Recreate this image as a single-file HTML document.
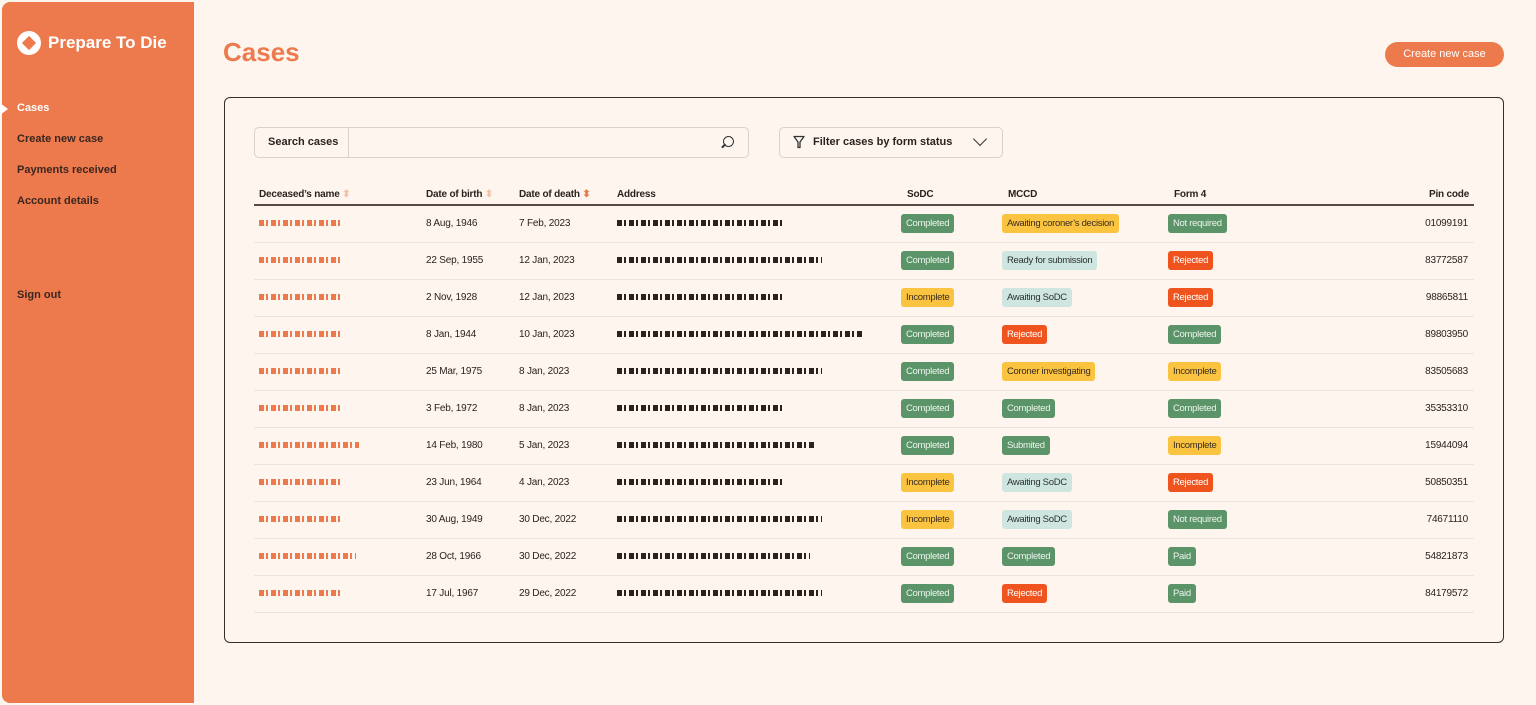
<!DOCTYPE html>
<html><head><style>
*{margin:0;padding:0;box-sizing:border-box}
body{width:1536px;height:705px;background:#fff;font-family:"Liberation Sans",sans-serif;position:relative;overflow:hidden;color:#2b2220}
.bg{position:absolute;left:0;top:0;width:1536px;height:705px;background:#fef5ee}
.side{position:absolute;left:2px;top:2px;width:192px;height:701px;background:#ec7a4c;border-radius:8px 0 0 8px}
.side .nav{position:absolute;left:15px;font-size:11px;font-weight:bold;color:#3a2620}
.a{position:absolute}
.card{position:absolute;left:224px;top:97px;width:1280px;height:546px;border:1.5px solid #3a2c2a;border-radius:6px}
.th{position:absolute;top:189px;font-size:10px;font-weight:bold;color:#2b2220;letter-spacing:-0.2px}
.td{position:absolute;font-size:10px;color:#2b2220;letter-spacing:-0.2px}
.b{position:absolute;height:19px;line-height:19px;font-size:9.5px;padding:0 5px;border-radius:3px;letter-spacing:-0.3px}
.g{background:#5a9468;color:#eef5ee}.y{background:#fbc440;color:#3a2c20}.r{background:#f0541e;color:#fff}.t{background:#cfe5e0;color:#2b3330}
.red{position:absolute;height:6px;background:repeating-linear-gradient(90deg,currentColor 0 5px,transparent 5px 7px,currentColor 7px 9px,transparent 9px 12px)}
.sep{position:absolute;left:254px;width:1220px;height:1px;background:#f1e3d8}
</style></head><body>
<div class="bg"></div>
<div class="side">
 <div class="a" style="left:15px;top:29px;width:24px;height:24px;border-radius:50%;background:#fff"></div>
 <div class="a" style="left:22px;top:36px;width:10px;height:10px;background:#ec7a4c;transform:rotate(45deg)"></div>
 <div class="a" style="left:46px;top:31px;font-size:17px;font-weight:bold;color:#fff">Prepare To Die</div>
 <div class="a" style="left:-2px;top:101px;width:0;height:0;border-top:6px solid transparent;border-bottom:6px solid transparent;border-left:8px solid #fff"></div>
 <div class="nav" style="top:100px;color:#fff">Cases</div>
 <div class="nav" style="top:131px">Create new case</div>
 <div class="nav" style="top:162px">Payments received</div>
 <div class="nav" style="top:193px">Account details</div>
 <div class="nav" style="top:287px">Sign out</div>
</div>
<div class="a" style="left:223px;top:37px;font-size:26px;font-weight:bold;color:#ec7a4c">Cases</div>
<div class="a" style="left:1385px;top:42px;width:119px;height:25px;border-radius:13px;background:#ec7a4c;color:#fff;font-size:11px;text-align:center;line-height:25px">Create new case</div>
<div class="card"></div>
<div class="a" style="left:254px;top:127px;width:495px;height:31px;border:1.5px solid #ddd0c6;border-radius:5px"></div>
<div class="a" style="left:348px;top:128px;width:1px;height:29px;background:#ddd0c6"></div>
<div class="a" style="left:268px;top:136px;font-size:11px;font-weight:bold">Search cases</div>
<div class="a" style="left:723px;top:136px;width:11px;height:11px;border:1.5px solid #333;border-radius:50%"></div>
<div class="a" style="left:721px;top:145px;width:5px;height:1.5px;background:#333;transform:rotate(-45deg)"></div>
<div class="a" style="left:779px;top:127px;width:224px;height:31px;border:1.5px solid #ddd0c6;border-radius:5px"></div>
<svg class="a" style="left:793px;top:135px" width="12" height="14" viewBox="0 0 12 14"><path d="M1 1.5H11L7 7V12.5H5V7Z" fill="none" stroke="#333" stroke-width="1.3" stroke-linejoin="round"/></svg>
<div class="a" style="left:813px;top:136px;font-size:11px;font-weight:bold">Filter cases by form status</div>
<div class="a" style="left:975px;top:134px;width:10px;height:10px;border-right:1.5px solid #333;border-bottom:1.5px solid #333;transform:rotate(45deg)"></div>
<div class="th" style="left:259px">Deceased’s name <span style="color:#f3c2a8">⬍</span></div>
<div class="th" style="left:426px">Date of birth <span style="color:#f3c2a8">⬍</span></div>
<div class="th" style="left:519px">Date of death <span style="color:#ec7a4c">⬍</span></div>
<div class="th" style="left:617px">Address</div>
<div class="th" style="left:907px">SoDC</div>
<div class="th" style="left:1008px">MCCD</div>
<div class="th" style="left:1174px">Form 4</div>
<div class="th" style="left:1429px">Pin code</div>
<div class="a" style="left:254px;top:204px;width:1220px;height:2px;background:#5a4a46"></div>
<div id="rows"></div>
<script>
var d=[["8 Aug, 1946","7 Feb, 2023",166,82,["Completed","g"],["Awaiting coroner’s decision","y"],["Not required","g"],"01099191"],
["22 Sep, 1955","12 Jan, 2023",205,82,["Completed","g"],["Ready for submission","t"],["Rejected","r"],"83772587"],
["2 Nov, 1928","12 Jan, 2023",166,82,["Incomplete","y"],["Awaiting SoDC","t"],["Rejected","r"],"98865811"],
["8 Jan, 1944","10 Jan, 2023",246,82,["Completed","g"],["Rejected","r"],["Completed","g"],"89803950"],
["25 Mar, 1975","8 Jan, 2023",205,82,["Completed","g"],["Coroner investigating","y"],["Incomplete","y"],"83505683"],
["3 Feb, 1972","8 Jan, 2023",166,82,["Completed","g"],["Completed","g"],["Completed","g"],"35353310"],
["14 Feb, 1980","5 Jan, 2023",198,100,["Completed","g"],["Submited","g"],["Incomplete","y"],"15944094"],
["23 Jun, 1964","4 Jan, 2023",166,82,["Incomplete","y"],["Awaiting SoDC","t"],["Rejected","r"],"50850351"],
["30 Aug, 1949","30 Dec, 2022",205,82,["Incomplete","y"],["Awaiting SoDC","t"],["Not required","g"],"74671110"],
["28 Oct, 1966","30 Dec, 2022",193,97,["Completed","g"],["Completed","g"],["Paid","g"],"54821873"],
["17 Jul, 1967","29 Dec, 2022",205,82,["Completed","g"],["Rejected","r"],["Paid","g"],"84179572"]];
var h="";d.forEach(function(r,i){var c=223+37*i;
h+='<div class="red" style="color:#ec7a4c;left:259px;top:'+(c-3)+'px;width:'+r[3]+'px"></div>';
h+='<div class="td" style="left:426px;top:'+(c-5)+'px">'+r[0]+'</div>';
h+='<div class="td" style="left:519px;top:'+(c-5)+'px">'+r[1]+'</div>';
h+='<div class="red" style="color:#2b2220;left:617px;top:'+(c-3)+'px;width:'+r[2]+'px"></div>';
h+='<div class="b '+r[4][1]+'" style="left:901px;top:'+(c-9)+'px">'+r[4][0]+'</div>';
h+='<div class="b '+r[5][1]+'" style="left:1002px;top:'+(c-9)+'px">'+r[5][0]+'</div>';
h+='<div class="b '+r[6][1]+'" style="left:1168px;top:'+(c-9)+'px">'+r[6][0]+'</div>';
h+='<div class="td" style="left:1418px;width:50px;text-align:right;top:'+(c-5)+'px">'+r[7]+'</div>';
h+='<div class="sep" style="top:'+(c+19)+'px"></div>';});
document.getElementById("rows").innerHTML=h;
</script>
</body></html>
